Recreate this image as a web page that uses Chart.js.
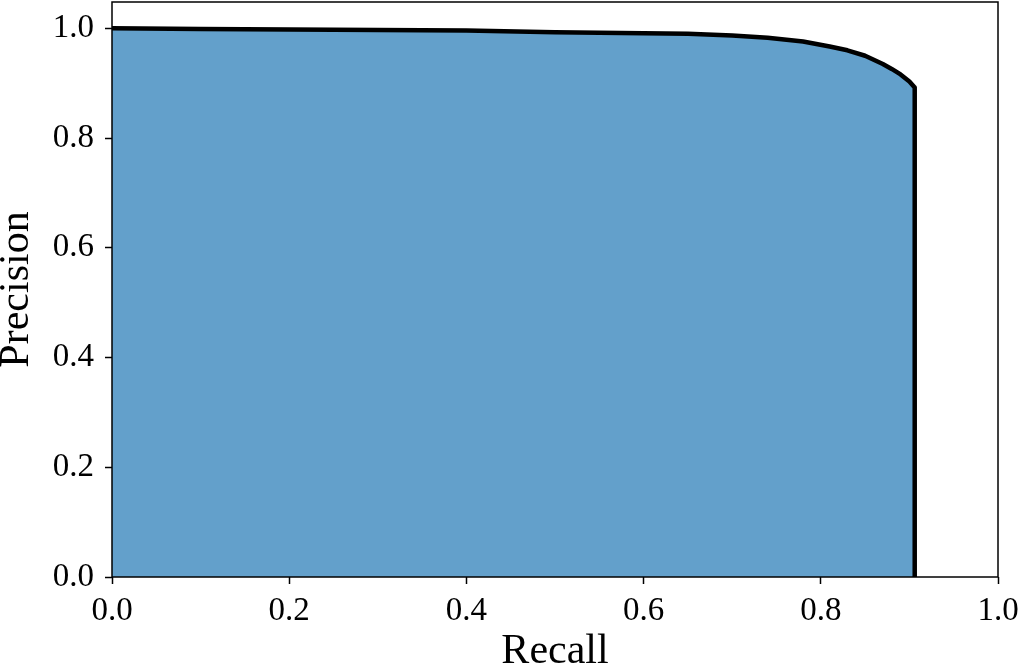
<!DOCTYPE html>
<html>
<head>
<meta charset="utf-8">
<script src="https://cdn.jsdelivr.net/npm/chart.js@4"></script>
<style>
  html, body { margin: 0; padding: 0; background: #fff; }
  #wrap { width: 1020px; height: 669px; }
</style>
</head>
<body>
<div id="wrap"><canvas id="c" width="1020" height="669"></canvas></div>
<script>
const recall    = [0.0, 0.1, 0.2, 0.3, 0.4, 0.5, 0.55, 0.6, 0.65, 0.7, 0.74, 0.78, 0.81, 0.83, 0.85, 0.87, 0.88, 0.89, 0.9, 0.906, 0.906];
const precision = [1.0, 0.999, 0.998, 0.997, 0.996, 0.993, 0.992, 0.991, 0.990, 0.987, 0.983, 0.976, 0.967, 0.960, 0.950, 0.935, 0.926, 0.916, 0.903, 0.892, 0.0];
const xTicks = [0.0, 0.2, 0.4, 0.6, 0.8, 1.0];
const yTicks = [0.0, 0.2, 0.4, 0.6, 0.8, 1.0];
const xLabel = 'Recall';
const yLabel = 'Precision';

const FONT = '"Liberation Serif", "DejaVu Serif", serif';

const framePlugin = {
  id: 'frame',
  afterDatasetsDraw(chart) {
    const {ctx, chartArea: a} = chart;
    ctx.save();
    ctx.strokeStyle = '#000';
    ctx.lineWidth = 1.5;
    ctx.strokeRect(a.left, a.top, a.right - a.left, a.bottom - a.top);
    ctx.restore();
  }
};

new Chart(document.getElementById('c'), {
  type: 'line',
  data: {
    datasets: [{
      data: recall.map((r, i) => ({x: r, y: precision[i]})),
      borderColor: '#000',
      borderWidth: 4.5,
      backgroundColor: 'rgb(99,160,203)',
      fill: 'origin',
      pointRadius: 0,
      tension: 0,
      borderJoinStyle: 'round'
    }]
  },
  options: {
    responsive: false,
    devicePixelRatio: 1,
    animation: false,
    layout: { padding: { top: 2, right: 22, left: 0, bottom: 0 } },
    plugins: { legend: { display: false }, tooltip: { enabled: false } },
    scales: {
      x: {
        type: 'linear',
        min: 0, max: 1,
        afterBuildTicks: s => { s.ticks = xTicks.map(v => ({value: v})); },
        afterFit: s => { s.height = 92; s.paddingLeft = 0; s.paddingRight = 0; },
        border: { display: false },
        grid: { drawOnChartArea: false, drawTicks: true, tickLength: 7, tickColor: '#000', tickWidth: 1.5 },
        ticks: { color: '#000', padding: 8, font: { family: FONT, size: 33 }, callback: v => Number(v).toFixed(1), maxRotation: 0 },
        title: { display: true, text: xLabel, color: '#000', font: { family: FONT, size: 42, lineHeight: 0.8 }, padding: { top: 0, bottom: 0 } }
      },
      y: {
        type: 'linear',
        min: 0, max: 1.048,
        afterBuildTicks: s => { s.ticks = yTicks.map(v => ({value: v})); },
        afterFit: s => { s.width = 112; s.paddingTop = 0; s.paddingBottom = 0; },
        border: { display: false },
        grid: { drawOnChartArea: false, drawTicks: true, tickLength: 7, tickColor: '#000', tickWidth: 1.5 },
        ticks: { color: '#000', padding: 11, font: { family: FONT, size: 33 }, callback: v => Number(v).toFixed(1) },
        title: { display: true, text: yLabel, color: '#000', font: { family: FONT, size: 42, lineHeight: 0.8 }, padding: { top: 0, bottom: 0 } }
      }
    }
  },
  plugins: [framePlugin]
});
</script>
</body>
</html>
